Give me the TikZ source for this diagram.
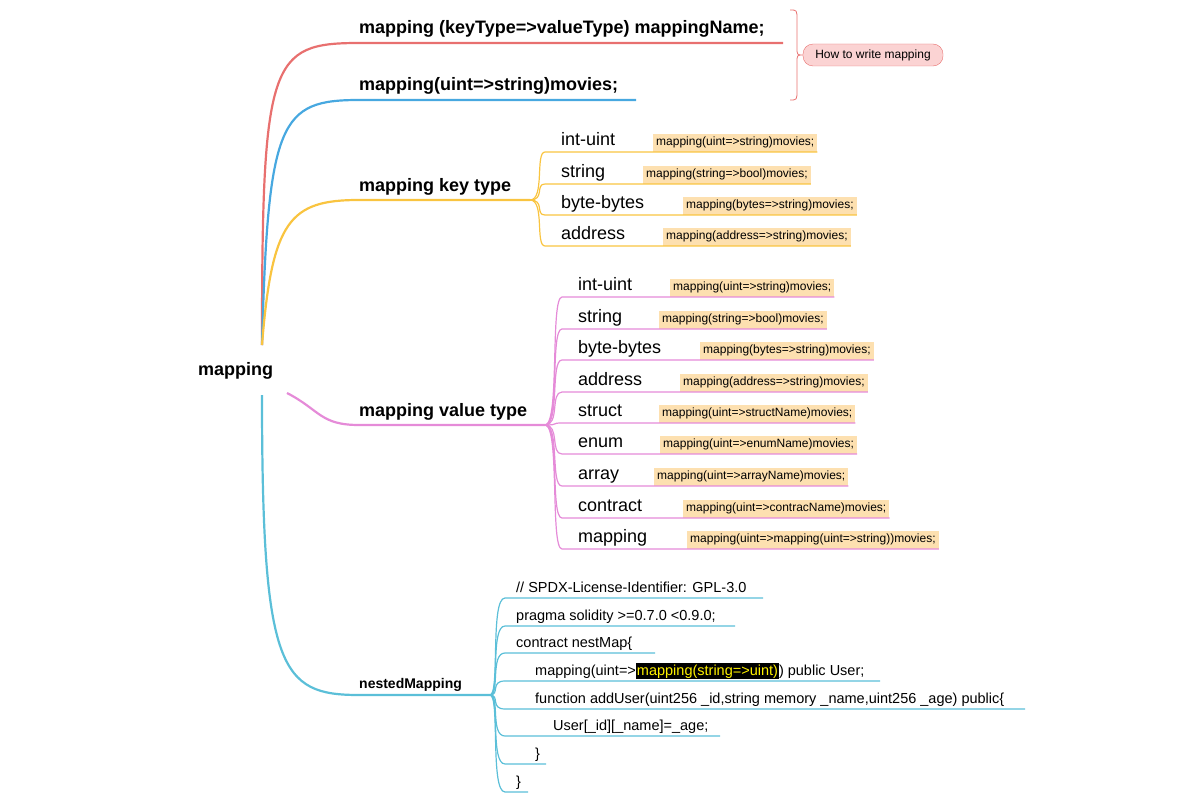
\documentclass[tikz,border=0pt]{standalone}
\usepackage{fontspec}
\setmainfont{Liberation Sans}
\usetikzlibrary{positioning}
\definecolor{redbr}{HTML}{E8706F}
\definecolor{bluebr}{HTML}{47A8E0}
\definecolor{yelbr}{HTML}{F9C440}
\definecolor{pinkbr}{HTML}{E58BD8}
\definecolor{tealbr}{HTML}{5BBFD8}
\definecolor{tagbg}{HTML}{FDE0B0}
\definecolor{notebg}{HTML}{FBD3D3}
\tikzset{
  head/.style={font=\bfseries\fontsize{18}{20}\selectfont,inner sep=0pt,anchor=base west},
  lbl/.style={font=\fontsize{18}{20}\selectfont,inner sep=0pt,anchor=base west},
  tag/.style={fill=tagbg,font=\fontsize{12}{14}\selectfont,inner sep=3pt,text height=9pt,text depth=3pt,anchor=south west},
  code/.style={font=\fontsize{14.5}{16}\selectfont,inner sep=0pt,anchor=base west},
  br/.style={line width=2.2pt},
  sub/.style={line width=1.2pt}
}
\begin{document}
\begin{tikzpicture}[x=1pt,y=-1pt]
    \useasboundingbox (0,0) rectangle (1200,800);

    \node[head] (root) at (198,375) {mapping};
    \coordinate (hubU) at (262,345);
    \coordinate (hubV) at (287,393);
    \coordinate (hubD) at (262,395);

    \node[head] (syntax) at (359,34) {mapping (keyType=>valueType) mappingName;};
    \node[head] (example) at (359,91) {mapping(uint=>string)movies;};
    \node[head] (keytype) at (359,191) {mapping key type};
    \node[head] (valtype) at (359,416) {mapping value type};
    \node[head,font=\bfseries\fontsize{14}{16}\selectfont] (nested) at (359,688) {nestedMapping};
    \coordinate (syntaxEnd) at (783,43);
    \coordinate (exampleEnd) at (636,100);
    \coordinate (keyEnd) at (530,200);
    \coordinate (valEnd) at (545,425);
    \coordinate (nestEnd) at (490,695);

    \draw[br,redbr] (hubU) .. controls (262,60) and (270,43) .. (syntax.west |- syntaxEnd) -- (syntaxEnd);
    \draw[br,bluebr] (hubU) .. controls (268,120) and (280,100) .. (example.west |- exampleEnd) -- (exampleEnd);
    \draw[br,yelbr] (hubU) .. controls (272,220) and (290,200) .. (keytype.west |- keyEnd) -- (keyEnd);
    \draw[br,pinkbr] (hubV) .. controls (320,410) and (320,425) .. (valtype.west |- valEnd) -- (valEnd);
    \draw[br,tealbr] (hubD) .. controls (262,670) and (280,695) .. (nested.west |- nestEnd) -- (nestEnd);

    % note on the first two branches
    \node[draw=redbr,fill=notebg,rounded corners=10pt,minimum width=140pt,minimum height=22pt,
          font=\fontsize{12}{14}\selectfont] (note) at (873,55) {How to write mapping};
    \draw[redbr,line width=0.8pt] (790,10) .. controls (797,10) .. (797,20) -- (797,47)
        .. controls (797,55) .. (note.west) .. controls (797,55) .. (797,63) -- (797,90)
        .. controls (797,100) .. (790,100);

    % key types
    \foreach \n/\t/\tx/\uy in {int-uint/{mapping(uint=>string)movies;}/653/152,
        string/{mapping(string=>bool)movies;}/643/184,
        byte-bytes/{mapping(bytes=>string)movies;}/683/215,
        address/{mapping(address=>string)movies;}/663/246}{
      \node[lbl] (k\uy) at (561,\uy-7) {\n};
      \node[tag] (kt\uy) at (\tx,\uy) {\t};
      \draw[sub,yelbr] (keyEnd) .. controls (545,200) and (535,\uy) .. ([xshift=-16pt]k\uy.west |- kt\uy.south) -- (kt\uy.south east);
    }

    % value types
    \foreach \n/\t/\tx/\uy in {int-uint/{mapping(uint=>string)movies;}/670/297,
        string/{mapping(string=>bool)movies;}/659/329,
        byte-bytes/{mapping(bytes=>string)movies;}/700/360,
        address/{mapping(address=>string)movies;}/680/392,
        struct/{mapping(uint=>structName)movies;}/659/423,
        enum/{mapping(uint=>enumName)movies;}/660/454,
        array/{mapping(uint=>arrayName)movies;}/654/486,
        contract/{mapping(uint=>contracName)movies;}/683/518,
        mapping/{mapping(uint=>mapping(uint=>string))movies;}/687/549}{
      \node[lbl] (v\uy) at (578,\uy-7) {\n};
      \node[tag] (vt\uy) at (\tx,\uy) {\t};
      \draw[sub,pinkbr] (valEnd) .. controls (560,425) and (550,\uy) .. ([xshift=-16pt]v\uy.west |- vt\uy.south) -- (vt\uy.south east);
    }

    % code lines
    \setlength{\fboxsep}{1pt}
    \foreach \c/\cx/\uy/\ux in {{// SPDX-License-Identifier: GPL-3.0}/516/598/763,
        {pragma solidity >=0.7.0 <0.9.0;}/516/626/735,
        {contract nestMap\{}/516/653/655,
        {mapping(uint=>\colorbox{black}{\textcolor{yellow}{mapping(string=>uint)}}) public User;}/535/681/880,
        {function addUser(uint256 \_id,string memory \_name,uint256 \_age) public\{}/535/709/1025,
        {User[\_id][\_name]=\_age;}/553/736/720,
        {\}}/535/764/546,
        {\}}/516/792/528}{
      \node[code] (c\uy) at (\cx,\uy-6) {\c};
      \coordinate (ce\uy) at (\ux,\uy);
      \draw[sub,tealbr] (nestEnd) .. controls (500,695) and (490,\uy) .. (505,\uy) -- (ce\uy);
    }
\end{tikzpicture}
\end{document}
